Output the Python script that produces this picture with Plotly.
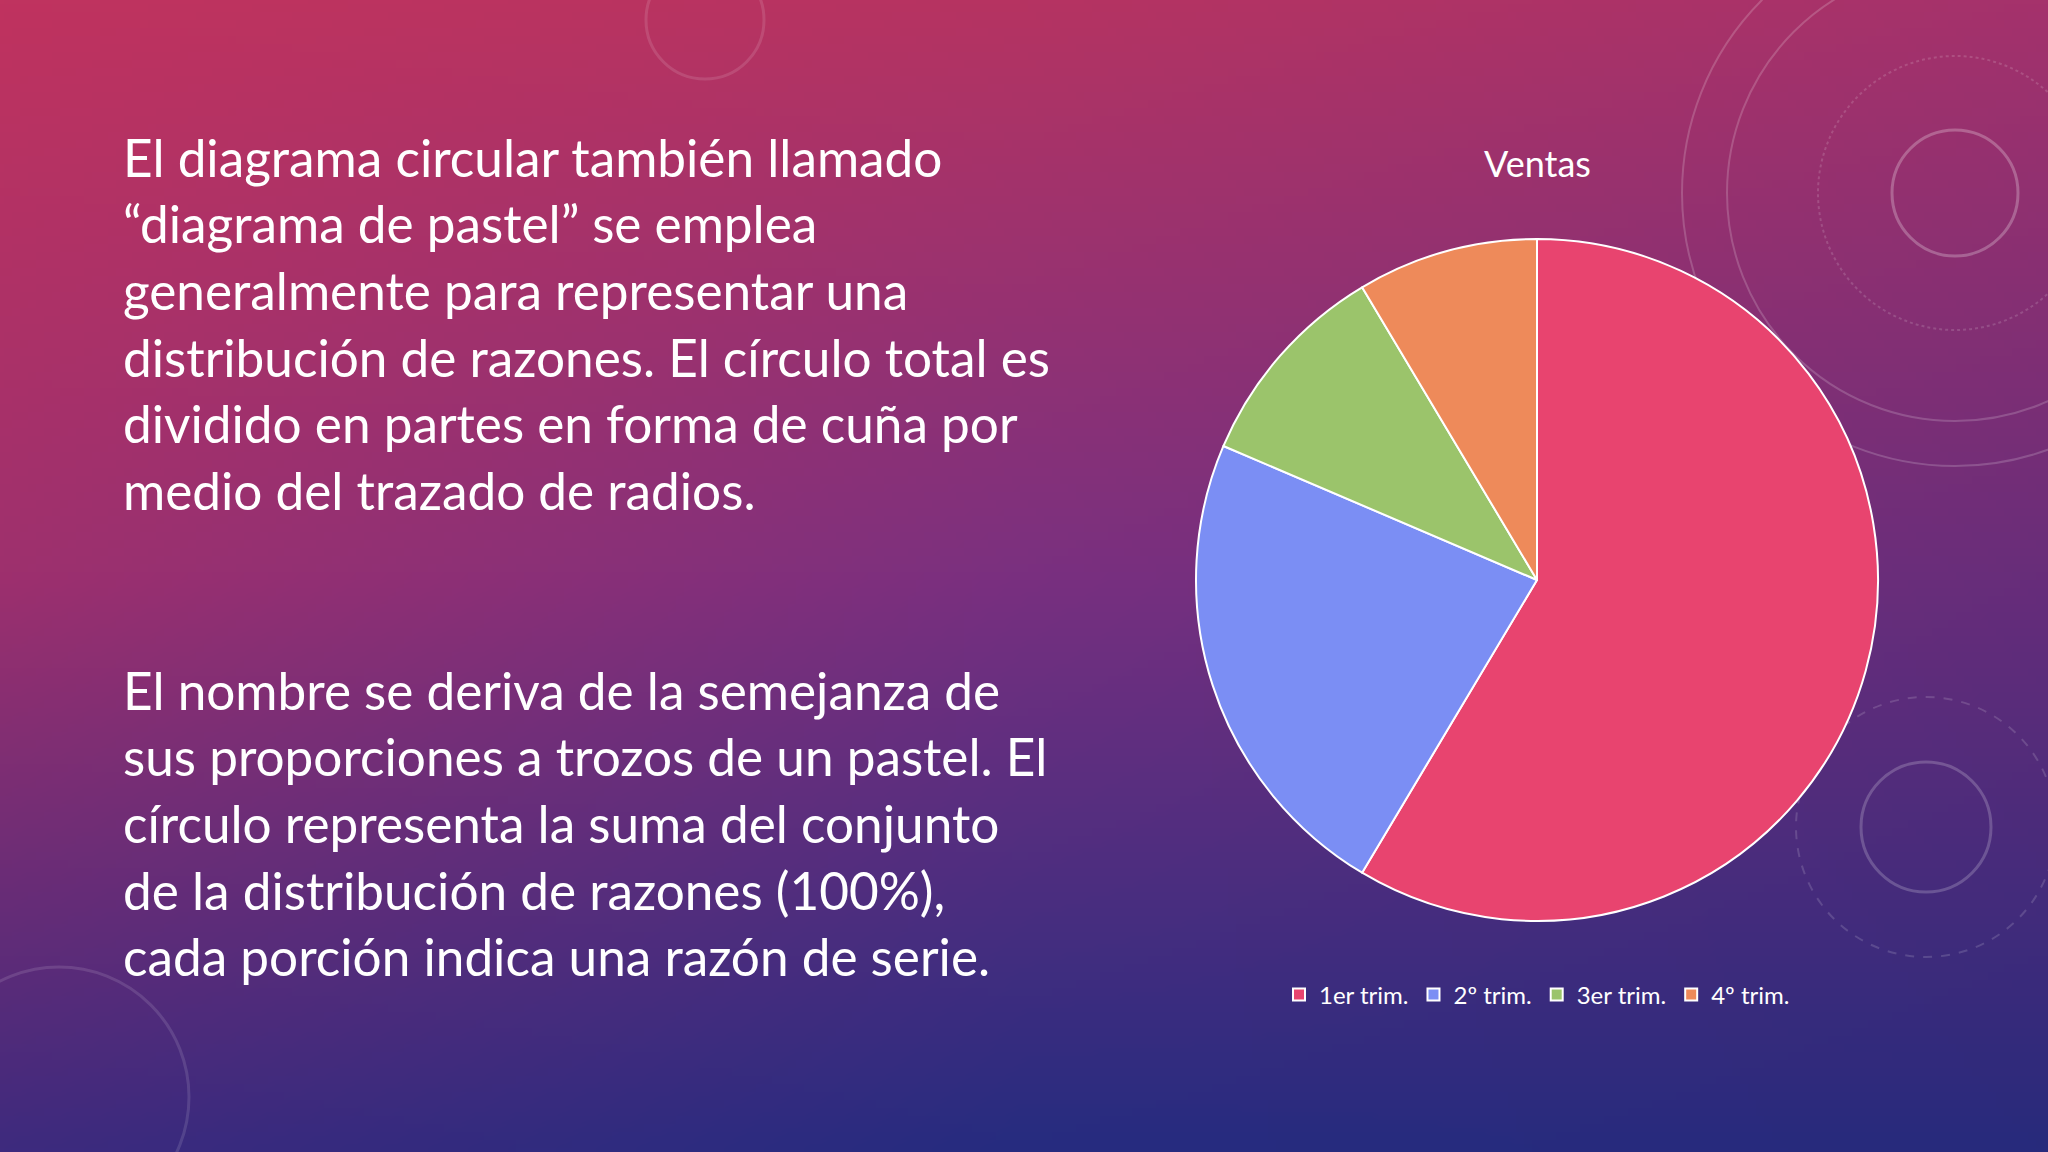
import base64, struct, zlib
import numpy as np
import plotly.graph_objects as go

W, H = 2048, 1152

# ---- data ----
categories = ["1er trim.", "2º trim.", "3er trim.", "4º trim."]
values = [8.2, 3.2, 1.4, 1.2]
slice_colors = ["#E8446F", "#7B8EF4", "#9BC46B", "#EE8A5A"]
chart_title = "Ventas"

para1 = ["El diagrama circular también llamado",
         "“diagrama de pastel” se emplea",
         "generalmente para representar una",
         "distribución de razones. El círculo total es",
         "dividido en partes en forma de cuña por",
         "medio del trazado de radios."]
para2 = ["El nombre se deriva de la semejanza de",
         "sus proporciones a trozos de un pastel. El",
         "círculo representa la suma del conjunto",
         "de la distribución de razones (100%),",
         "cada porción indica una razón de serie."]
para1_y = [157, 223, 290, 357, 423, 490]
para2_y = [690, 756, 823, 890, 956]

# ---- background gradient (png data uri) ----
grid = np.array([
    [[192, 51, 95], [182, 52, 98], [165, 50, 108]],
    [[158, 48, 110], [122, 48, 128], [104, 45, 122]],
    [[62, 42, 126], [38, 44, 128], [40, 42, 124]],
], dtype=float)
bw, bh = 256, 144
ys = np.linspace(0, 2, bh)
xs = np.linspace(0, 2, bw)
yi = np.clip(np.floor(ys).astype(int), 0, 1)
xi = np.clip(np.floor(xs).astype(int), 0, 1)
fy = (ys - yi)[:, None, None]
fx = (xs - xi)[None, :, None]
c00 = grid[yi][:, xi]
c01 = grid[yi][:, xi + 1]
c10 = grid[yi + 1][:, xi]
c11 = grid[yi + 1][:, xi + 1]
img = (c00 * (1 - fy) * (1 - fx) + c01 * (1 - fy) * fx + c10 * fy * (1 - fx) + c11 * fy * fx)
img = np.clip(img, 0, 255).astype(np.uint8)


def png_uri(arr):
    h, w, _ = arr.shape
    raw = b"".join(b"\x00" + arr[r].tobytes() for r in range(h))

    def chunk(t, d):
        return struct.pack(">I", len(d)) + t + d + struct.pack(">I", zlib.crc32(t + d) & 0xffffffff)
    png = (b"\x89PNG\r\n\x1a\n" + chunk(b"IHDR", struct.pack(">IIBBBBB", w, h, 8, 2, 0, 0, 0))
           + chunk(b"IDAT", zlib.compress(raw, 9)) + chunk(b"IEND", b""))
    return "data:image/png;base64," + base64.b64encode(png).decode()


fig = go.Figure()

cx, cy, r = 1537, 580, 341
fig.add_trace(go.Pie(
    labels=categories, values=values, sort=False, direction="clockwise", rotation=0,
    marker=dict(colors=slice_colors, line=dict(color="white", width=2)),
    textinfo="none", hoverinfo="label+value",
    domain=dict(x=[(cx - r) / W, (cx + r) / W], y=[1 - (cy + r) / H, 1 - (cy - r) / H]),
))

ann = []
FONT = "Lato, Calibri, Carlito, sans-serif"
for lines, ylist in ((para1, para1_y), (para2, para2_y)):
    for t, ypx in zip(lines, ylist):
        ann.append(dict(text=t, x=121 / W, y=1 - ypx / H, xref="paper", yref="paper",
                        xanchor="left", yanchor="middle", showarrow=False,
                        font=dict(family=FONT, size=51.3, color="white")))
ann.append(dict(text=chart_title, x=cx / W, y=1 - 163 / H, xref="paper", yref="paper",
                xanchor="center", yanchor="middle", showarrow=False,
                font=dict(family=FONT, size=36, color="white")))

shapes = []
def circ(x, y, rr, dash="solid", op=0.2, w=2):
    shapes.append(dict(type="circle", xref="paper", yref="paper", layer="below",
                       x0=(x - rr) / W, x1=(x + rr) / W, y0=1 - (y + rr) / H, y1=1 - (y - rr) / H,
                       line=dict(color=f"rgba(255,255,255,{op})", width=w, dash=dash)))
circ(1955, 193, 63, op=0.25, w=3)
circ(1955, 193, 137, dash="dot", op=0.15)
circ(1955, 193, 228, op=0.18)
circ(1955, 193, 273, op=0.18)
circ(1926, 827, 65, op=0.2, w=3)
circ(1926, 827, 130, dash="dash", op=0.15)
circ(59, 1097, 130, op=0.12, w=3)
circ(705, 20, 59, op=0.12, w=3)

fig.update_layout(
    width=W, height=H, margin=dict(l=0, r=0, t=0, b=0),
    paper_bgcolor="#7a3080", plot_bgcolor="rgba(0,0,0,0)",
    images=[dict(source=png_uri(img), xref="paper", yref="paper", x=0, y=1, sizex=1, sizey=1,
                 xanchor="left", yanchor="top", sizing="stretch", layer="below")],
    annotations=ann, shapes=shapes,
    showlegend=True,
    legend=dict(orientation="h", x=cx / W, y=1 - 995 / H, xanchor="center", yanchor="middle",
                font=dict(family=FONT, size=24, color="white"), bgcolor="rgba(0,0,0,0)",
                itemwidth=30),
    font=dict(family=FONT, color="white"),
)
fig.write_html("out.html", config={"displayModeBar": False},
               post_script="document.body.style.margin='0';document.body.style.overflow='hidden';")
